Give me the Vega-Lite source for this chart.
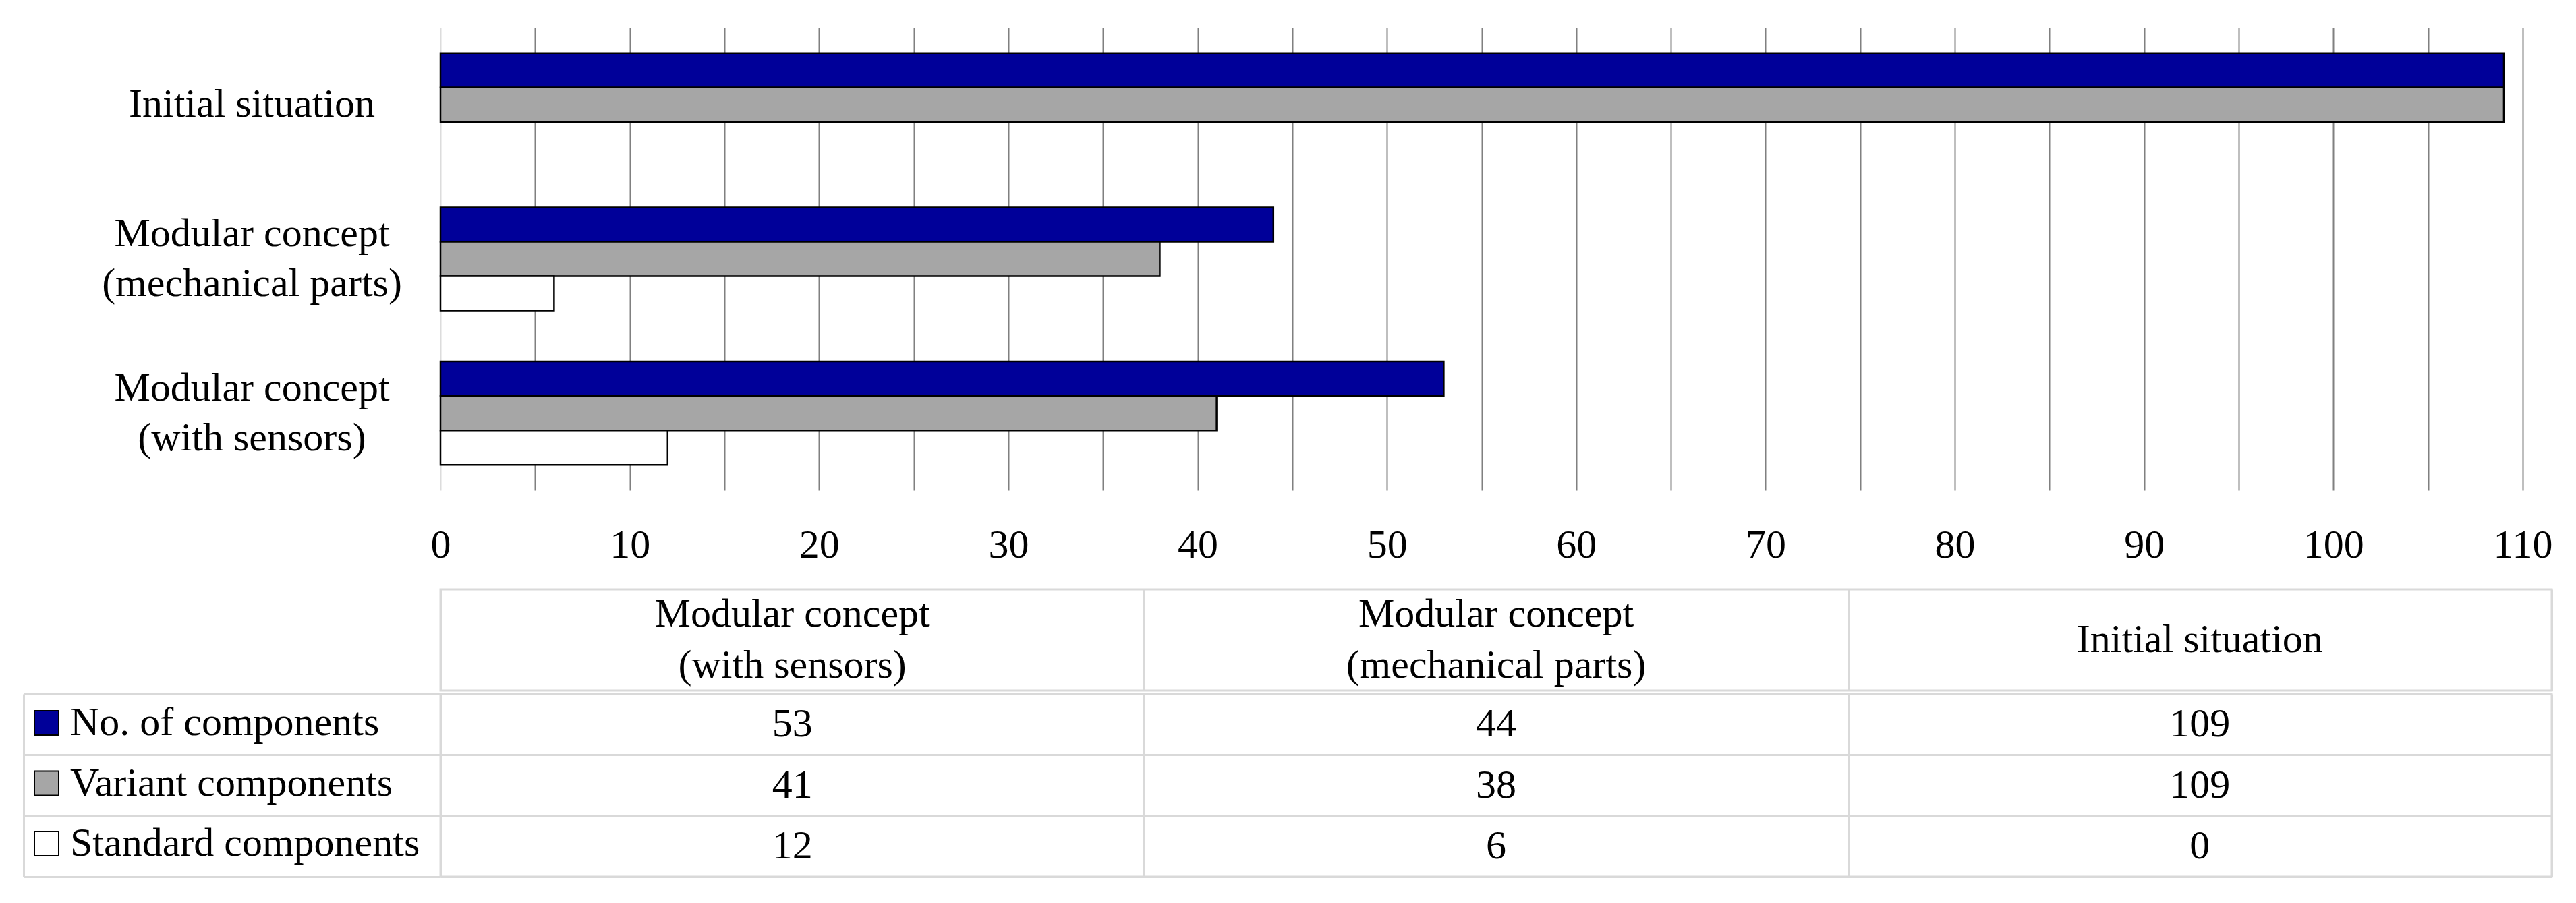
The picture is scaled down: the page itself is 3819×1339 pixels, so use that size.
{
  "$schema": "https://vega.github.io/schema/vega-lite/v6.json",
  "background": "white",
  "padding": {"left": 32, "top": 41, "right": 0, "bottom": 0},
  "config": {"font": "Liberation Serif", "view": {"stroke": null}},
  "data": {"values": [
    {"category": "Initial situation", "series": "No. of components", "value": 109},
    {"category": "Initial situation", "series": "Variant components", "value": 109},
    {"category": "Initial situation", "series": "Standard components", "value": 0},
    {"category": "Modular concept\n(mechanical parts)", "series": "No. of components", "value": 44},
    {"category": "Modular concept\n(mechanical parts)", "series": "Variant components", "value": 38},
    {"category": "Modular concept\n(mechanical parts)", "series": "Standard components", "value": 6},
    {"category": "Modular concept\n(with sensors)", "series": "No. of components", "value": 53},
    {"category": "Modular concept\n(with sensors)", "series": "Variant components", "value": 41},
    {"category": "Modular concept\n(with sensors)", "series": "Standard components", "value": 12}
  ]},
  "spacing": 34,
  "vconcat": [
    {
      "width": 3087,
      "height": 686,
      "transform": [{"filter": "datum.value > 0"}],
      "mark": {"type": "bar", "stroke": "black", "strokeWidth": 2.5},
      "encoding": {
        "y": {
          "field": "category", "type": "nominal",
          "sort": ["Initial situation", "Modular concept\n(mechanical parts)", "Modular concept\n(with sensors)"],
          "scale": {"paddingInner": 0.33, "paddingOuter": 0.165},
          "axis": {"title": null, "ticks": false, "tickSize": 0, "domain": false, "labelAlign": "center", "labelBaseline": "middle", "labelPadding": 280, "labelFontSize": 60, "labelLineHeight": 74, "labelLimit": 2000, "labelColor": "black", "labelExpr": "split(datum.label, '\\n')",
            "labelOffset": {"condition": {"test": "datum.value !== 'Initial situation'", "value": -37}, "value": 0}}
        },
        "yOffset": {
          "field": "series", "type": "nominal",
          "sort": ["No. of components", "Variant components", "Standard components"],
          "scale": {"paddingInner": 0, "paddingOuter": 0}
        },
        "x": {
          "field": "value", "type": "quantitative",
          "scale": {"domain": [0, 110], "nice": false},
          "axis": {
            "title": null,
            "values": [0, 5, 10, 15, 20, 25, 30, 35, 40, 45, 50, 55, 60, 65, 70, 75, 80, 85, 90, 95, 100, 105, 110],
            "labelExpr": "datum.value % 10 === 0 ? datum.label : ''",
            "grid": true,
            "gridColor": {"condition": {"test": "datum.value === 0", "value": "#dcdcdc"}, "value": "#808080"},
            "gridWidth": 2,
            "ticks": false, "domain": false,
            "labelFontSize": 60, "labelColor": "black", "labelPadding": 52,
            "labelFlush": false, "labelOverlap": false
          }
        },
        "color": {
          "field": "series", "type": "nominal",
          "scale": {"domain": ["No. of components", "Variant components", "Standard components"], "range": ["#000099", "#a6a6a6", "#ffffff"]},
          "legend": {"orient": "none", "legendX": -614, "legendY": 1001, "title": null, "direction": "vertical", "symbolType": "square", "symbolSize": 1296, "symbolStrokeColor": "black", "symbolStrokeWidth": 2, "symbolOpacity": 1, "labelFontSize": 60, "labelColor": "black", "labelOffset": 5, "rowPadding": 29.5, "labelLimit": 2000, "padding": 0}
        }
      }
    },
    {
      "spacing": 0,
      "vconcat": [
        {
          "width": 3130,
          "height": 150,
          "view": {"stroke": "#d9d9d9", "strokeWidth": 3},
          "transform": [{"filter": "datum.series === 'No. of components'"}],
          "encoding": {
            "x": {
              "field": "category", "type": "nominal",
              "sort": ["Modular concept\n(with sensors)", "Modular concept\n(mechanical parts)", "Initial situation"],
              "scale": {"paddingInner": 0, "paddingOuter": 0},
              "axis": {"title": null, "labels": false, "ticks": false, "domain": false, "grid": true, "tickBand": "extent", "gridColor": "#d9d9d9", "gridWidth": 3}
            },
            "text": {"field": "category", "type": "nominal"}
          },
          "layer": [
            {
              "transform": [{"filter": "datum.category !== 'Initial situation'"}],
              "mark": {"type": "text", "fontSize": 60, "lineBreak": "\n", "lineHeight": 76, "baseline": "middle", "color": "black", "dy": -38}
            },
            {
              "transform": [{"filter": "datum.category === 'Initial situation'"}],
              "mark": {"type": "text", "fontSize": 60, "baseline": "middle", "color": "black"}
            }
          ]
        },
        {
          "width": 3130,
          "height": 271,
          "view": {"stroke": "#d9d9d9", "strokeWidth": 3},
          "layer": [
            {
              "mark": {"type": "text", "fontSize": 60, "baseline": "middle", "color": "black"},
              "encoding": {
                "x": {
                  "field": "category", "type": "nominal",
                  "sort": ["Modular concept\n(with sensors)", "Modular concept\n(mechanical parts)", "Initial situation"],
                  "scale": {"paddingInner": 0, "paddingOuter": 0},
                  "axis": {"title": null, "labels": false, "ticks": false, "domain": false, "grid": true, "tickBand": "extent", "gridColor": "#d9d9d9", "gridWidth": 3}
                },
                "y": {
                  "field": "series", "type": "nominal",
                  "sort": ["No. of components", "Variant components", "Standard components"],
                  "scale": {"paddingInner": 0, "paddingOuter": 0},
                  "axis": {"orient": "left", "title": null, "labels": false, "ticks": true, "tickSize": 618, "tickBand": "extent", "tickColor": "#d9d9d9", "tickWidth": 3, "domain": false, "grid": true, "gridColor": "#d9d9d9", "gridWidth": 3}
                },
                "text": {"field": "value", "type": "quantitative"}
              }
            },
            {
              "mark": {"type": "point", "opacity": 0},
              "encoding": {
                "y": {
                  "field": "series", "type": "nominal",
                  "sort": ["No. of components", "Variant components", "Standard components"],
                  "axis": {"orient": "left", "offset": 618, "title": null, "labels": false, "ticks": false, "grid": false, "domain": true, "domainColor": "#d9d9d9", "domainWidth": 3}
                }
              }
            }
          ],
          "resolve": {"axis": {"y": "independent"}}
        }
      ]
    }
  ]
}
